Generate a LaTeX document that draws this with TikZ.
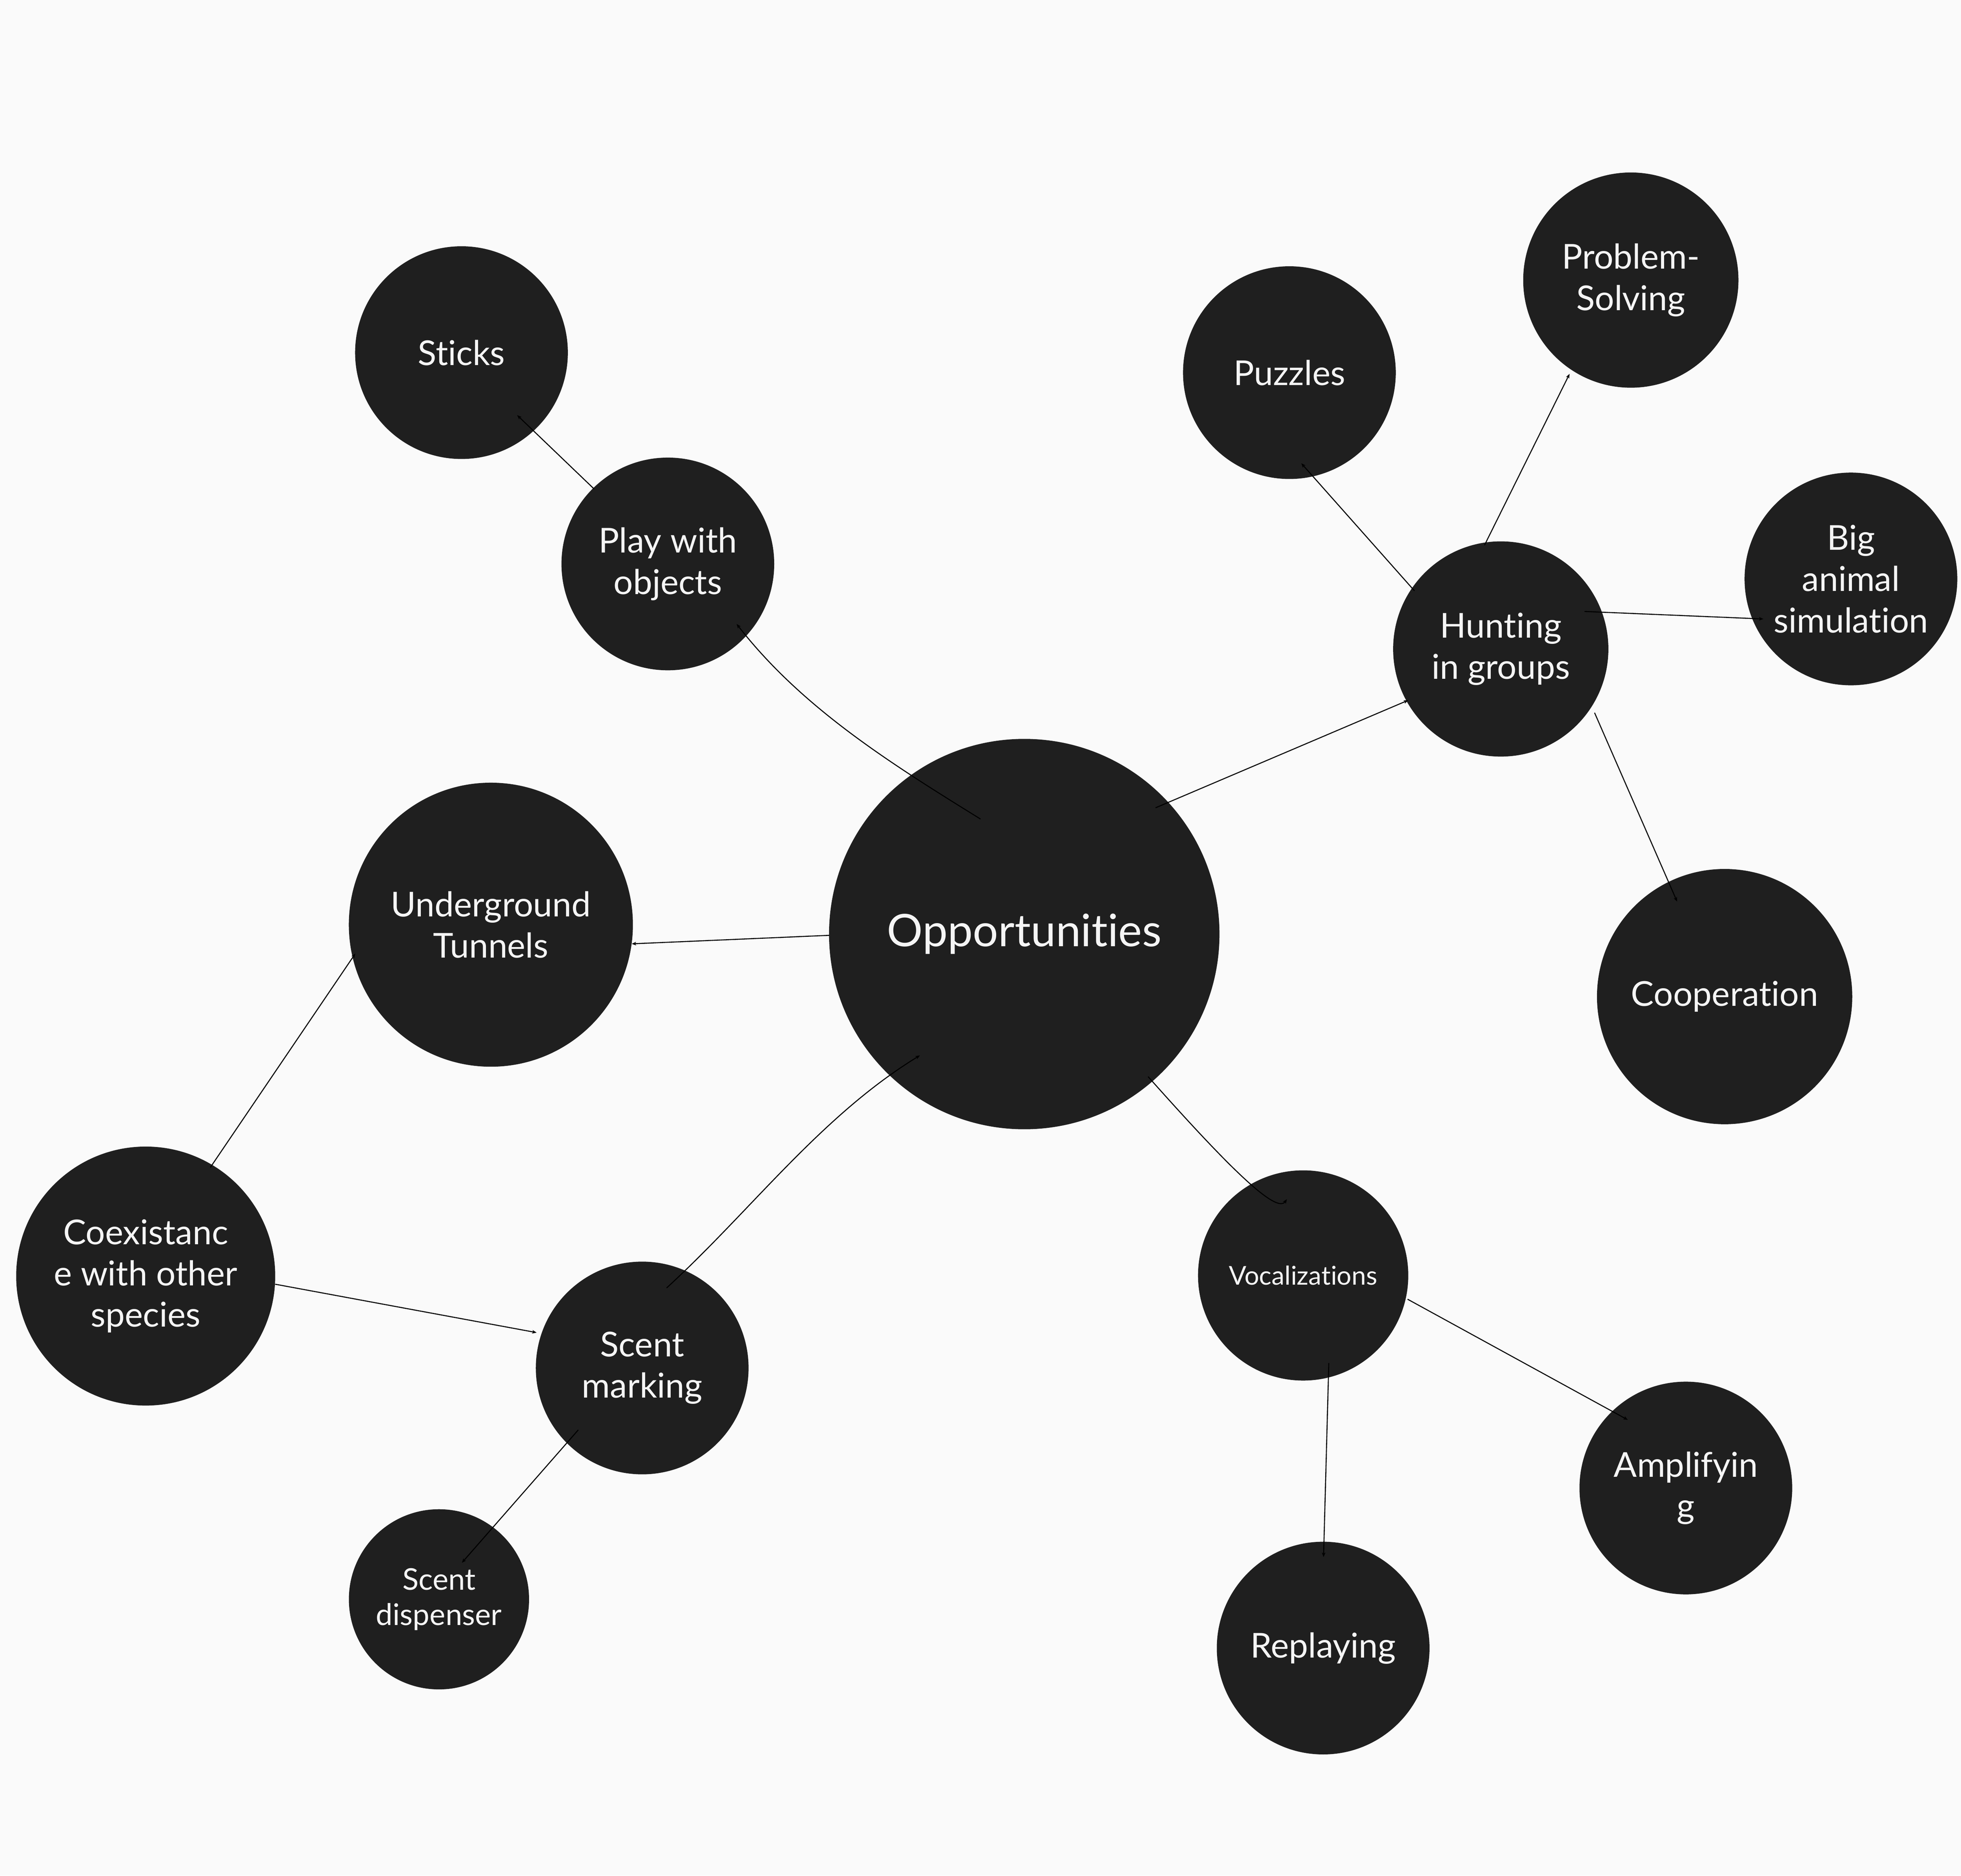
\documentclass[tikz,border=0pt]{standalone}
\usepackage{fontspec}
\setmainfont{Lato}[Ligatures=CommonOff]
\usetikzlibrary{arrows.meta}   % arrow tips

\definecolor{paper}{HTML}{FAFAFA}
\definecolor{bubblefill}{HTML}{1F1F1F}
\definecolor{bubbletext}{HTML}{F5F5F5}

\tikzset{
  bubble/.style={circle, fill=bubblefill, text=bubbletext, inner sep=0pt,
                 align=center, minimum size=#1,
                 font=\fontsize{7.8}{9.4}\selectfont},
  link/.style={black, line width=0.23pt,
               -{Stealth[length=1pt, width=0.8pt, inset=0.25pt]}}
}

\begin{document}
\begin{tikzpicture}[x=0.01cm, y=-0.01cm]
        \fill[paper] (0,0) rectangle (1568,1500);
        \useasboundingbox (0,0) rectangle (1568,1500);

        % centre and branches
        \node[bubble=3.12cm, font=\fontsize{10.2}{12}\selectfont] (opp) at (819,747) {Opportunities};
        \node[bubble=1.70cm] (play) at (534,451) {Play with\\objects};
        \node[bubble=1.70cm] (sticks) at (369,282) {Sticks};
        \node[bubble=2.27cm] (tunnels) at (392.5,739.5) {Underground\\Tunnels};
        \node[bubble=2.07cm] (coexist) at (116.5,1020.5) {Coexistanc\\e with other\\species};
        \node[bubble=1.70cm] (scent) at (513.5,1094) {Scent\\marking};
        \node[bubble=1.44cm, font=\fontsize{6.8}{8}\selectfont] (dispenser) at (351,1279) {Scent\\dispenser};
        \node[bubble=1.68cm, font=\fontsize{5.9}{7}\selectfont] (vocal) at (1042,1020) {Vocalizations};
        \node[bubble=1.70cm] (replay) at (1058,1318) {Replaying};
        \node[bubble=1.70cm] (amplify) at (1348,1190) {Amplifyin\\g};
        \node[bubble=1.72cm] (hunting) at (1200,519) {Hunting\\in groups};
        \node[bubble=1.70cm] (puzzles) at (1031,298) {Puzzles};
        \node[bubble=1.72cm] (problem) at (1304,224) {Problem-\\Solving};
        \node[bubble=1.70cm] (biganimal) at (1480,463) {Big\\animal\\simulation};
        \node[bubble=2.04cm] (coop) at (1379,797) {Cooperation};

        % connectors
        \draw[link] ([shift={(-59,-60)}]play.center) -- ([shift={(44.5,50)}]sticks.center);
        \draw[link] ([shift={(-35,-92)}]opp.center)
                .. controls +(-71,-44) and +(52.5,67.5) .. ([shift={(55,48)}]play.center);
        \draw[link] ([shift={(105,-101)}]opp.center) -- ([shift={(-74,41)}]hunting.center);
        \draw[link] ([shift={(-69,-46.5)}]hunting.center) -- ([shift={(9.5,72.5)}]puzzles.center);
        \draw[link] ([shift={(-13,-83)}]hunting.center) -- ([shift={(-49,75)}]problem.center);
        \draw[link] ([shift={(67,-30)}]hunting.center) -- ([shift={(-70,32)}]biganimal.center);
        \draw[link] ([shift={(75,51)}]hunting.center) -- ([shift={(-38,-76)}]coop.center);
        \draw[link] ([shift={(-156,1)}]opp.center) -- ([shift={(112.6,15.3)}]tunnels.center);
        \draw[link] ([shift={(51.7,-86.9)}]coexist.center) -- ([shift={(-108.4,23.1)}]tunnels.center);
        \draw[link] ([shift={(103.5,6.5)}]coexist.center) -- ([shift={(-84.4,-28.3)}]scent.center);
        \draw[link] ([shift={(19.5,-64)}]scent.center)
                .. controls +(67.7,-62) and +(-79.5,48.7) .. ([shift={(-83.4,97)}]opp.center);
        \draw[link] ([shift={(-51.1,49.5)}]scent.center) -- ([shift={(18.3,-29.2)}]dispenser.center);
        \draw[link] ([shift={(99,114)}]opp.center)
                .. controls +(57,64) and +(-9,13) .. ([shift={(-13,-61)}]vocal.center);
        \draw[link] ([shift={(83.5,19)}]vocal.center) -- ([shift={(-46.4,-54.5)}]amplify.center);
        \draw[link] ([shift={(20.5,70)}]vocal.center) -- ([shift={(0.3,-72.8)}]replay.center);

    \end{tikzpicture}
\end{document}
